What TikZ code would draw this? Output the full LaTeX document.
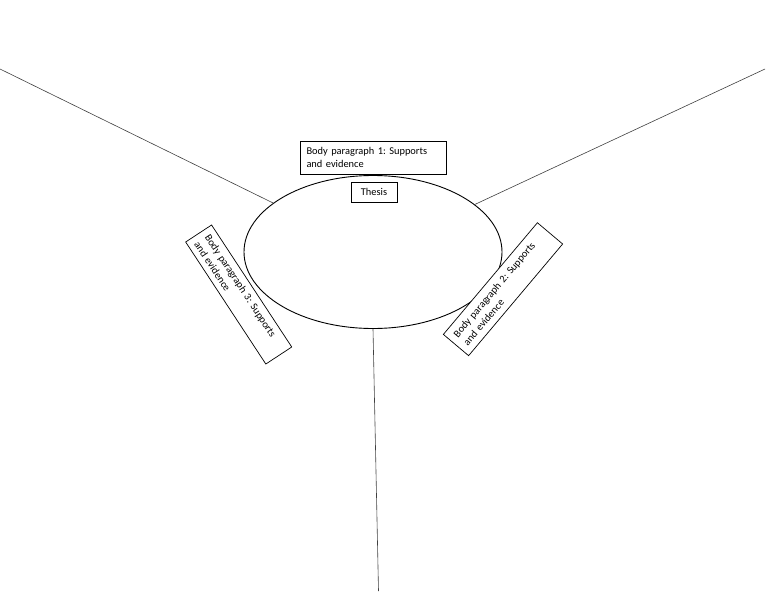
\documentclass[tikz,border=0pt]{standalone}
\usepackage{fontspec}
\setmainfont{Carlito}
\usetikzlibrary{shapes.geometric}
\begin{document}
\frenchspacing
\begin{tikzpicture}[x=1pt,y=-1pt,
  spoke/.style={draw=black!75,line width=0.6pt},
  ring/.style={draw=black,line width=0.9pt,ellipse,minimum width=258pt,minimum height=153pt,inner sep=0pt},
  textbox/.style={draw=black,line width=0.7pt,fill=white,align=left,font=\fontsize{10.4}{12.8}\selectfont,inner xsep=6.5pt,inner ysep=2pt},
  thesisbox/.style={draw=black,line width=0.7pt,fill=white,font=\fontsize{10.4}{11}\selectfont,minimum width=46pt,minimum height=20pt,inner sep=1pt}]
\useasboundingbox (0,0) rectangle (768,594);
\node[ring] (e) at (373,252) {};
\coordinate (lt) at (0,69);
\coordinate (rt) at (765,69);
\coordinate (bt) at (378.5,591);
\draw[spoke] (lt) -- (e);
\draw[spoke] (rt) -- (e);
\draw[spoke] (bt) -- (e.south);
\node[textbox,text width=133pt,minimum height=33pt] (b1) at (373,157.5) {Body paragraph 1: Supports\\and evidence};
\node[thesisbox] (th) at (374,192) {Thesis};
\node[textbox,text width=133pt,minimum height=31pt,rotate=-56.7] (b3) at (238.7,294.5) {Body paragraph 3: Supports\\and evidence};
\node[textbox,text width=133pt,minimum height=33pt,rotate=49.9] (b2) at (503,289.2) {Body paragraph 2: Supports\\and evidence};
\end{tikzpicture}
\end{document}
